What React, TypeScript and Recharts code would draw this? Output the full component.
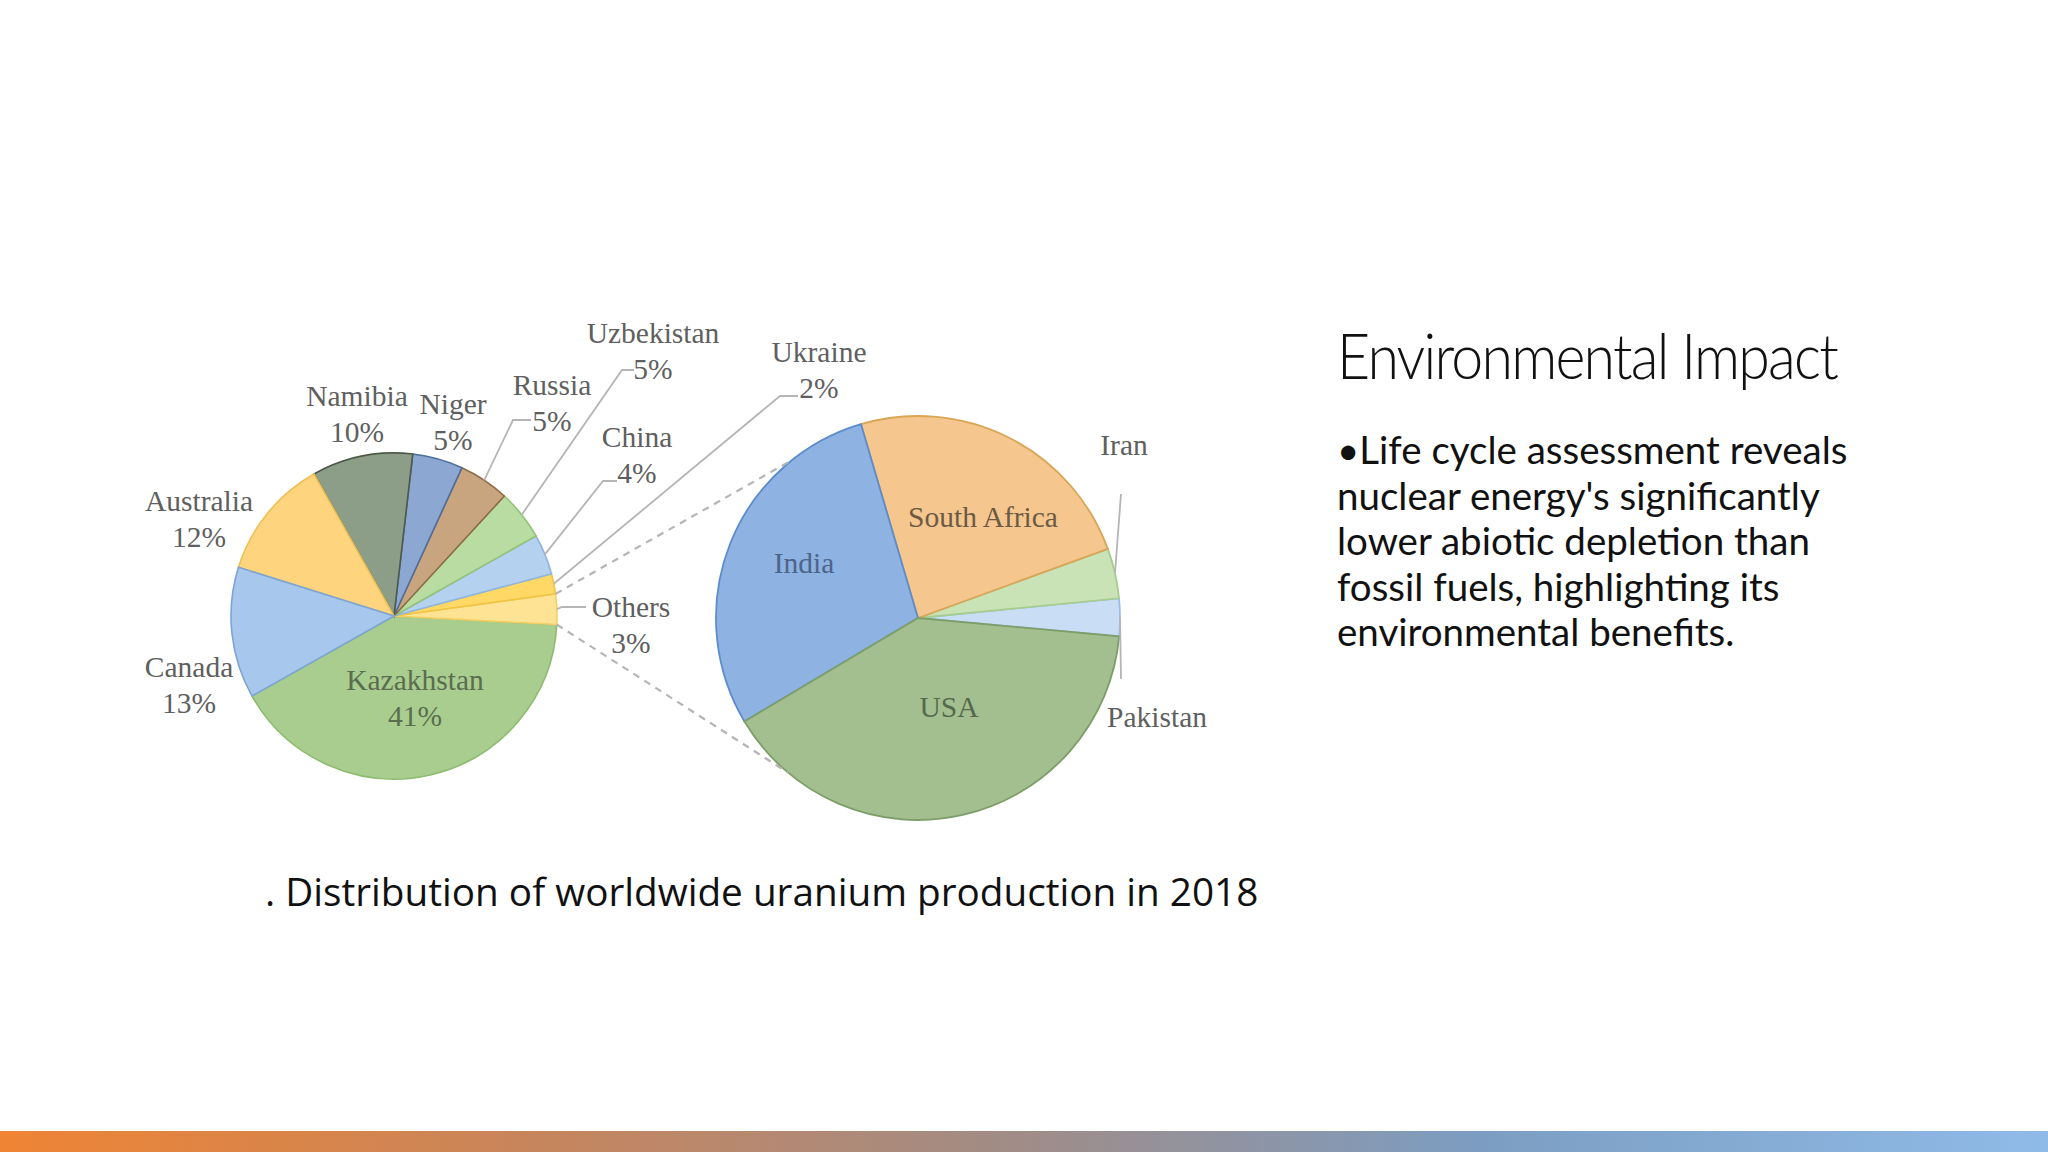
import React from "react";
import { Cell, Pie, PieChart } from "recharts";

// world production 2018, % (left) and breakdown of "Others" (right)
const LEFT_COUNTRIES = ["Kazakhstan", "Others", "Ukraine", "China", "Uzbekistan", "Russia", "Niger", "Namibia", "Australia", "Canada"];
const LEFT_SHARES = [41, 3, 2, 4, 5, 5, 5, 10, 12, 13];

const RIGHT_COUNTRIES = ["Pakistan", "Iran", "South Africa", "India", "USA"];
const RIGHT_SHARES = [3, 4, 24, 29, 40];

const TITLE = "Environmental Impact";
const BODY_LINES = [
  "\u2022Life cycle assessment reveals",
  "nuclear energy's significantly",
  "lower abiotic depletion than",
  "fossil fuels, highlighting its",
  "environmental benefits.",
];
const CAPTION = ". Distribution of worldwide uranium production in 2018";

const leftData = LEFT_COUNTRIES.map((name, i) => ({ name, value: LEFT_SHARES[i] }));
const rightData = RIGHT_COUNTRIES.map((name, i) => ({ name, value: RIGHT_SHARES[i] }));

// [fill, stroke]
const COLORS: Record<string, [string, string]> = {
  Kazakhstan: ["#a9cd8f", "#8dbb6e"],
  Others: ["#ffe394", "#f5cf63"],
  Ukraine: ["#ffd866", "#f2c445"],
  China: ["#b4d2f0", "#8fb6e0"],
  Uzbekistan: ["#b8dca1", "#93c277"],
  Russia: ["#c9a57f", "#8f6c47"],
  Niger: ["#8ba7d2", "#4e6e9f"],
  Namibia: ["#8d9e88", "#4c5a47"],
  Australia: ["#fed47e", "#eec055"],
  Canada: ["#a7c7ec", "#7ca4d6"],
  Pakistan: ["#c9def4", "#9cbde2"],
  Iran: ["#c9e3b7", "#a7cd8e"],
  "South Africa": ["#f5c78f", "#d9a557"],
  India: ["#8eb3e2", "#5c8ccd"],
  USA: ["#a3bf8f", "#7c9e68"],
};

const SERIF = "'Liberation Serif', 'DejaVu Serif', serif";
const GRAY = "#5f5f5f";
const LINE = "#b5b5b5";

const LEFT_CX = 394;
const LEFT_CY = 616;
const LEFT_R = 163;
const RIGHT_CX = 918;
const RIGHT_CY = 618;
const RIGHT_R = 202;

type Spot = {
  x: number;
  y: number;
  elbow?: [number, number];
  tick?: number;
  inside?: string;
};

// label offsets from the pie centre
const LEFT_SPOTS: Record<string, Spot> = {
  Kazakhstan: { x: 21, y: 82, inside: "#5a6d4f" },
  Canada: { x: -205, y: 69 },
  Australia: { x: -195, y: -97 },
  Namibia: { x: -37, y: -202 },
  Niger: { x: 59, y: -194 },
  Russia: { x: 158, y: -213, elbow: [119, -196], tick: 18 },
  Uzbekistan: { x: 259, y: -265, elbow: [228, -246], tick: 12 },
  China: { x: 243, y: -161, elbow: [209, -135], tick: 14 },
  Ukraine: { x: 425, y: -246, elbow: [386, -220], tick: 18 },
  Others: { x: 237, y: 9, elbow: [168, -9], tick: 24 },
};

const RIGHT_SPOTS: Record<string, Spot> = {
  India: { x: -114, y: -55, inside: "#4d6489" },
  "South Africa": { x: 65, y: -101, inside: "#6b5a44" },
  USA: { x: 31, y: 89, inside: "#56684d" },
  Iran: { x: 206, y: -173, elbow: [203, -124] },
  Pakistan: { x: 239, y: 99, elbow: [203, 61] },
};

const RAD = Math.PI / 180;
const onCircle = (cx: number, cy: number, r: number, a: number) => [cx + r * Math.cos(-a * RAD), cy + r * Math.sin(-a * RAD)];

function makeLabel(spots: Record<string, Spot>, withPct: boolean) {
  return (props: any) => {
    const { cx, cy, midAngle, outerRadius, value, startAngle, endAngle } = props;
    const name = props.payload?.name ?? props.name;
    const s = spots[name];
    if (!s) return null;
    const tx = cx + s.x;
    const ty = cy + s.y;
    const [ex, ey] = onCircle(cx, cy, outerRadius, midAngle);
    const fill = s.inside ?? GRAY;
    const lines = withPct ? [name, `${value}%`] : [name];
    const gap = 36;
    const top = ty - ((lines.length - 1) * gap) / 2;
    let connectors = null;
    if (name === "Others") {
      // dashed lines that tie the "Others" slice to the breakdown pie
      const [ax, ay] = onCircle(cx, cy, outerRadius, endAngle);
      const [bx, by] = onCircle(cx, cy, outerRadius, startAngle);
      const [px, py] = onCircle(RIGHT_CX, RIGHT_CY, RIGHT_R, 128.5);
      const [qx, qy] = onCircle(RIGHT_CX, RIGHT_CY, RIGHT_R, 230);
      connectors = (
        <g stroke={LINE} strokeWidth={2.2} strokeDasharray="7 6" fill="none">
          <line x1={ax} y1={ay} x2={px} y2={py} />
          <line x1={bx} y1={by} x2={qx} y2={qy} />
        </g>
      );
    }
    return (
      <g>
        {connectors}
        {s.elbow && (
          <polyline
            points={`${ex},${ey} ${cx + s.elbow[0]},${cy + s.elbow[1]} ${cx + s.elbow[0] + (s.tick ?? 0)},${cy + s.elbow[1]}`}
            fill="none"
            stroke={LINE}
            strokeWidth={1.8}
          />
        )}
        {lines.map((t, i) => (
          <text
            key={i}
            x={tx}
            y={top + i * gap}
            textAnchor="middle"
            dominantBaseline="central"
            fontFamily={SERIF}
            fontSize={29.5}
            fill={fill}
          >
            {t}
          </text>
        ))}
      </g>
    );
  };
}

export default function App() {
  return (
    <div style={{ position: "absolute", left: 0, top: 0, width: 2048, height: 1152, background: "#fff", overflow: "hidden" }}>
      <div style={{ position: "absolute", left: 0, top: 0 }}>
        <PieChart width={1300} height={1000} margin={{ top: 0, right: 0, bottom: 0, left: 0 }}>
          <Pie
            data={leftData}
            dataKey="value"
            nameKey="name"
            cx={LEFT_CX}
            cy={LEFT_CY}
            outerRadius={LEFT_R}
            startAngle={-150.6}
            endAngle={209.4}
            label={makeLabel(LEFT_SPOTS, true)}
            labelLine={false}
            isAnimationActive={false}
          >
            {leftData.map((d) => (
              <Cell key={d.name} fill={COLORS[d.name][0]} stroke={COLORS[d.name][1]} strokeWidth={1.6} />
            ))}
          </Pie>
          <Pie
            data={rightData}
            dataKey="value"
            nameKey="name"
            cx={RIGHT_CX}
            cy={RIGHT_CY}
            outerRadius={RIGHT_R}
            startAngle={-5.2}
            endAngle={354.8}
            label={makeLabel(RIGHT_SPOTS, false)}
            labelLine={false}
            isAnimationActive={false}
          >
            {rightData.map((d) => (
              <Cell key={d.name} fill={COLORS[d.name][0]} stroke={COLORS[d.name][1]} strokeWidth={1.8} />
            ))}
          </Pie>
        </PieChart>
      </div>

      <svg width={2048} height={1152} style={{ position: "absolute", left: 0, top: 0, pointerEvents: "none" }}>
        <text
          x={1337}
          y={379}
          fontFamily="Lato, 'Open Sans', sans-serif"
          fontWeight={300}
          fontSize={64}
          letterSpacing={-2}
          textLength={500}
          lengthAdjust="spacingAndGlyphs"
          fill="#111"
        >
          {TITLE}
        </text>
        {BODY_LINES.map((t, i) => (
          <text key={i} x={1337} y={464 + i * 45.5} fontFamily="Lato, 'Open Sans', sans-serif" fontSize={38.5} fill="#111">
            {t}
          </text>
        ))}
        <text x={265} y={906} fontFamily="'Open Sans', 'Noto Sans', sans-serif" fontSize={38.7} fill="#111">
          {CAPTION}
        </text>
      </svg>

      <div
        style={{
          position: "absolute",
          left: 0,
          top: 1131,
          width: 2048,
          height: 21,
          background: "linear-gradient(90deg, #ef8434 0%, #c9855a 25%, #a08c88 50%, #7c9dc1 72%, #8fbbe8 100%)",
        }}
      />
    </div>
  );
}
